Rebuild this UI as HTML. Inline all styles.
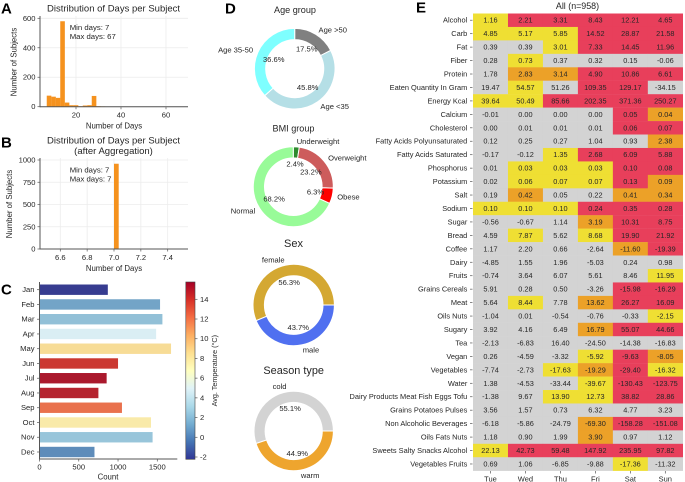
<!DOCTYPE html>
<html lang="en">
<head>
<meta charset="utf-8">
<title>Dietary intake overview</title>
<style>
html,body{margin:0;padding:0;background:#fff;width:685px;height:482px;overflow:hidden}
svg{display:block;filter:blur(0.35px)}
text{font-family:"Liberation Sans",Arial,sans-serif;fill:#262626}
</style>
</head>
<body>
<svg id="fig" xmlns="http://www.w3.org/2000/svg" width="685" height="482" viewBox="0 0 685 482"></svg>
<script>
// Panel A
const histBinStart = 7;
const histBinWidth = 2;
const histCounts = [75,68,60,580,28,10,10,3,8,10,73,3,2,1,1,0,0,0,0,0,0,0,0,0,0,0,0,0,0,1];
const histXTicks = [20,40,60];
const histYTicks = [0,200,400,600];
const histNotes = ['Min days: 7','Max days: 67'];
// Panel B
const aggDays = [7];
const aggCounts = [958];
const aggBarWidth = 0.035;
const aggXTicks = [6.6,6.8,7.0,7.2,7.4];
const aggYTicks = [0,250,500,750,1000];
const aggNotes = ['Min days: 7','Max days: 7'];
// Panel C
const months = ['Jan','Feb','Mar','Apr','May','Jun','Jul','Aug','Sep','Oct','Nov','Dec'];
const monthCounts = [870,1535,1565,1485,1675,1000,855,750,1050,1420,1440,700];
const monthTemps = [-2.2,1.1,2.2,4.7,8.6,14,15.2,14.8,12.2,7.8,2.4,0.3];
const countTicks = [0,500,1000,1500];
const tempTicks = [-2,0,2,4,6,8,10,12,14];
const cmapStops = ['#313695','#4575b4','#74add1','#abd9e9','#e0f3f8','#ffffbf','#fee090','#fdae61','#f46d43','#d73027','#a50026'];
// Panel D
const ageLabels = ['Age >50','Age <35','Age 35-50'];
const ageShares = [17.5,45.8,36.6];
const bmiLabels = ['Underweight','Overweight','Obese','Normal'];
const bmiShares = [2.4,23.2,6.3,68.2];
const sexLabels = ['female','male'];
const sexShares = [56.3,43.7];
const seasonLabels = ['cold','warm'];
const seasonShares = [55.1,44.9];
// Panel E
const days = ['Tue','Wed','Thu','Fri','Sat','Sun'];
const foods = ['Alcohol','Carb','Fat','Fiber','Protein','Eaten Quantity In Gram','Energy Kcal','Calcium','Cholesterol','Fatty Acids Polyunsaturated','Fatty Acids Saturated','Phosphorus','Potassium','Salt','Sodium','Sugar','Bread','Coffee','Dairy','Fruits','Grains Cereals','Meat','Oils Nuts','Sugary','Tea','Vegan','Vegetables','Water','Dairy Products Meat Fish Eggs Tofu','Grains Potatoes Pulses','Non Alcoholic Beverages','Oils Fats Nuts','Sweets Salty Snacks Alcohol','Vegetables Fruits'];
const foodValues = [
['1.16','2.21','3.31','8.43','12.21','4.65'],
['4.85','5.17','5.85','14.52','28.87','21.58'],
['0.39','0.39','3.01','7.33','14.45','11.96'],
['0.28','0.73','0.37','0.32','0.15','-0.06'],
['1.78','2.83','3.14','4.90','10.86','6.61'],
['19.47','54.57','51.26','109.35','129.17','-34.15'],
['39.64','50.49','85.66','202.35','371.36','250.27'],
['-0.01','0.00','0.00','0.00','0.05','0.04'],
['0.00','0.01','0.01','0.01','0.06','0.07'],
['0.12','0.25','0.27','1.04','0.93','2.38'],
['-0.17','-0.12','1.35','2.68','6.09','5.88'],
['0.01','0.03','0.03','0.03','0.10','0.08'],
['0.02','0.06','0.07','0.07','0.13','0.09'],
['0.19','0.42','0.05','0.22','0.41','0.34'],
['0.10','0.10','0.10','0.24','0.35','0.28'],
['-0.56','-0.67','1.14','3.19','10.31','8.75'],
['4.59','7.87','5.62','8.68','19.90','21.92'],
['1.17','2.20','0.66','-2.64','-11.60','-19.39'],
['-4.85','1.55','1.96','-5.03','0.24','0.98'],
['-0.74','3.64','6.07','5.61','8.46','11.95'],
['5.91','0.28','0.50','-3.26','-15.98','-16.29'],
['5.64','8.44','7.78','13.62','26.27','16.09'],
['-1.04','0.01','-0.54','-0.76','-0.33','-2.15'],
['3.92','4.16','6.49','16.79','55.07','44.66'],
['-2.13','-6.83','16.40','-24.50','-14.38','-16.83'],
['0.26','-4.59','-3.32','-5.92','-9.63','-8.05'],
['-7.74','-2.73','-17.63','-19.29','-29.40','-16.32'],
['1.38','-4.53','-33.44','-39.67','-130.43','-123.75'],
['-1.38','9.67','13.90','12.73','38.82','28.86'],
['3.56','1.57','0.73','6.32','4.77','3.23'],
['-6.18','-5.86','-24.79','-69.30','-158.28','-151.08'],
['1.18','0.90','1.99','3.90','0.97','1.12'],
['22.13','42.73','59.48','147.92','235.95','97.82'],
['0.69','1.06','-6.85','-9.88','-17.36','-11.32']
];
// significance level per cell: 0 none, 1 yellow, 2 orange, 3 red
const foodLevels = [
[1,3,3,3,3,3],[1,1,1,3,3,3],[0,0,1,3,3,3],[0,1,0,0,0,0],[0,2,2,3,3,3],[0,1,0,3,3,0],[1,1,3,3,3,3],
[0,0,0,0,3,2],[0,0,0,0,3,3],[0,0,0,0,0,2],[0,0,1,3,3,3],[0,1,1,1,3,3],[0,1,1,1,3,2],[0,2,0,0,2,2],
[1,1,1,3,3,3],[0,0,0,2,3,3],[0,1,0,1,3,3],[0,0,0,0,2,3],[0,0,0,0,0,0],[0,0,0,0,0,1],[0,0,0,0,3,3],
[0,1,0,2,3,3],[0,0,0,0,0,1],[0,0,0,2,3,3],[0,0,0,0,0,0],[0,0,0,1,3,2],[0,0,1,2,3,1],[0,0,0,1,3,3],
[0,0,1,1,3,3],[0,0,0,0,0,0],[0,0,0,2,3,3],[0,0,0,2,0,0],[1,3,3,3,3,3],[0,0,0,0,1,0]
];
const levelColors = ['#d3d3d3','#efdf33','#eca128','#e83f5b'];

const svg = document.getElementById('fig');
const NS = 'http://www.w3.org/2000/svg';
function mk(tag, attrs, parent){
  const e = document.createElementNS(NS, tag);
  for (const k in attrs) e.setAttribute(k, attrs[k]);
  (parent || svg).appendChild(e);
  return e;
}
function txt(x, y, s, size, anchor, parent, extra){
  const e = mk('text', Object.assign({x:x, y:y, 'font-size':size, 'text-anchor':anchor || 'start', 'dominant-baseline':'central'}, extra || {}), parent);
  e.textContent = s;
  return e;
}
function linear(d0, d1, r0, r1){ return v => r0 + (v - d0) * (r1 - r0) / (d1 - d0); }
function mixRgb(a, b, t){
  const p = h => [1,3,5].map(i => parseInt(h.substr(i,2),16));
  const A = p(a), B = p(b);
  return A.map((c,i) => c + (B[i]-c)*t);
}
const SPINE = '#555555', GRID = '#ececec', BAR = '#f5921e';

let el;
function panelLetter(ch, x, y){
  const e = txt(x, y, ch, 15, 'start', svg, {'font-weight':'bold'});
  e.style.fill = '#000';
  
  
}
panelLetter('A', 1, 9);
panelLetter('B', 1, 143);
panelLetter('C', 1, 290);
panelLetter('D', 225, 9);
panelLetter('E', 416, 8);

function histPanel(id, cfg){
  const g = mk('g', {});
  
  
  const sx = cfg.sx, sy = cfg.sy;
  cfg.xTicks.forEach(t => {
    const X = sx(t);
    const gl = mk('line', {x1:X, x2:X, y1:cfg.top, y2:cfg.bottom, stroke:GRID, 'stroke-width':0.8}, g);
    
    
    const tk = mk('line', {x1:X, x2:X, y1:cfg.bottom, y2:cfg.bottom+2.5, stroke:SPINE, 'stroke-width':0.7}, g);
    
    
    const lb = txt(X, cfg.bottom+8.5, cfg.fmtX(t), 7.6, 'middle', g);
    
    
  });
  cfg.yTicks.forEach(t => {
    const Y = sy(t);
    const gl = mk('line', {x1:cfg.left, x2:cfg.right, y1:Y, y2:Y, stroke:GRID, 'stroke-width':0.8}, g);
    
    
    const tk = mk('line', {x1:cfg.left-2.5, x2:cfg.left, y1:Y, y2:Y, stroke:SPINE, 'stroke-width':0.7}, g);
    
    
    const lb = txt(cfg.left-4.5, Y, String(t), 7.6, 'end', g);
    
    
  });
  cfg.drawBars(g);
  const sl = mk('line', {x1:cfg.left, x2:cfg.left, y1:cfg.top, y2:cfg.bottom+0.5, stroke:SPINE, 'stroke-width':1}, g);
  
  
  const sb = mk('line', {x1:cfg.left, x2:cfg.right, y1:cfg.bottom, y2:cfg.bottom, stroke:SPINE, 'stroke-width':1}, g);
  
  
  cfg.title.forEach((s,i) => {
    const t = txt(113.5, cfg.titleY + i*10.7, s, 9.5, 'middle', g);
    
    
  });
  const xl = txt(114, cfg.bottom+19.3, 'Number of Days', 7.8, 'middle', g);
  
  
  const yl = txt(0, 0, 'Number of Subjects', 7.8, 'middle', g, {transform:'translate(' + cfg.ylabelX + ',' + cfg.ylabelY + ') rotate(-90)'});
  
  
  cfg.notes.forEach((s,i) => {
    const n = txt(69.7, cfg.noteY + i*9, s, 7.75, 'start', g);
    
    
  });
}

const ax = linear(20, 60, 76, 166), ay = linear(0, 600, 106.7, 18.3);
histPanel('days', {
  left:40, right:188, top:16, bottom:106.7, sx:ax, sy:ay,
  xTicks:histXTicks, yTicks:histYTicks, fmtX:String,
  title:['Distribution of Days per Subject'], titleY:9,
  ylabelX:14, ylabelY:62, notes:histNotes, noteY:27.7,
  drawBars(g){
    histCounts.forEach((c,i) => {
      const x0 = histBinStart + i*histBinWidth;
      const b = mk('rect', {x:ax(x0), y:ay(c), width:ax(x0+histBinWidth)-ax(x0)+0.1, height:ay(0)-ay(c), fill:BAR}, g);
      
      
    });
  }
});

const bx = linear(6.6, 7.4, 60.3, 167.7), by = linear(0, 1000, 249, 160);
histPanel('aggregated-days', {
  left:40, right:188, top:158, bottom:249, sx:bx, sy:by,
  xTicks:aggXTicks, yTicks:aggYTicks, fmtX:v => v.toFixed(1),
  title:['Distribution of Days per Subject','(after Aggregation)'], titleY:141,
  ylabelX:9.7, ylabelY:204, notes:aggNotes, noteY:170,
  drawBars(g){
    aggDays.forEach((d,i) => {
      const b = mk('rect', {x:bx(d), y:by(aggCounts[i]), width:bx(d+aggBarWidth)-bx(d), height:by(0)-by(aggCounts[i]), fill:BAR}, g);
      
      
    });
  }
});

// Panel C
const TMIN = -2.23, TMAX = 15.75;
function tempColor(t){
  const u = Math.max(0, Math.min(1, (t - TMIN) / (TMAX - TMIN))) * (cmapStops.length - 1);
  const i = Math.min(cmapStops.length - 2, Math.floor(u));
  const c = mixRgb(cmapStops[i], cmapStops[i+1], u - i);
  const l = (Math.max(...c) + Math.min(...c)) / 2;
  return 'rgb(' + c.map(v => Math.round(l + (v - l) * 0.88)).join(',') + ')';
}
const gC = mk('g', {});


const cx = linear(0, 1500, 39.5, 157.3);
const cyBand = i => linear(0, 11, 289.7, 452)(i);
months.forEach((m,i) => {
  const Y = cyBand(i);
  const b = mk('rect', {x:cx(0), y:Y-5.2, width:cx(monthCounts[i])-cx(0), height:10.4, fill:tempColor(monthTemps[i])}, gC);
  
  
  const tk = mk('line', {x1:37, x2:39.5, y1:Y, y2:Y, stroke:SPINE, 'stroke-width':0.7}, gC);
  
  
  const lb = txt(34.5, Y, m, 7.6, 'end', gC);
  
  
});
countTicks.forEach(t => {
  const X = cx(t);
  const tk = mk('line', {x1:X, x2:X, y1:459, y2:461.5, stroke:SPINE, 'stroke-width':0.7}, gC);
  
  
  const lb = txt(X, 467, String(t), 7.6, 'middle', gC);
  
  
});
el = mk('line', {x1:39.5, x2:39.5, y1:282, y2:459.5, stroke:SPINE, 'stroke-width':1}, gC);


el = mk('line', {x1:39.5, x2:177.3, y1:459, y2:459, stroke:SPINE, 'stroke-width':1}, gC);


el = txt(108, 477, 'Count', 7.8, 'middle', gC);



// colorbar
const defs = mk('defs', {});
const grad = mk('linearGradient', {id:'cbar', x1:0, x2:0, y1:1, y2:0}, defs);
cmapStops.forEach((c,i) => mk('stop', {offset:(i/(cmapStops.length-1)), 'stop-color':c}, grad));
const gB = mk('g', {});


el = mk('rect', {x:185.8, y:282, width:9.2, height:177.3, fill:'url(#cbar)', stroke:'#444', 'stroke-width':0.6}, gB);


const ty = linear(-2, 14, 457, 299.3);
tempTicks.forEach(t => {
  const Y = ty(t);
  const tk = mk('line', {x1:195, x2:197.5, y1:Y, y2:Y, stroke:SPINE, 'stroke-width':0.7}, gB);
  
  
  const lb = txt(200, Y, String(t), 7.6, 'start', gB);
  
  
});
el = txt(0, 0, 'Avg. Temperature (\u00b0C)', 7.2, 'middle', gB, {transform:'translate(214.7,370.7) rotate(-90)'});



// Panel D
function donut(name, cfg){
  const g = mk('g', {});
  
  
  const tt = txt(cfg.titleX, cfg.titleY, cfg.title, cfg.titleSize, 'middle', g);
  
  
  const R = cfg.r, r = R * 0.72, total = cfg.shares.reduce((a,b)=>a+b,0);
  let ang = cfg.start;
  cfg.shares.forEach((s,i) => {
    const sweep = s / total * 360 * cfg.dir, a0 = ang, a1 = ang + sweep;
    ang = a1;
    const pt = (rad, a) => [cfg.cx + rad*Math.cos(a*Math.PI/180), cfg.cy - rad*Math.sin(a*Math.PI/180)];
    const large = Math.abs(sweep) > 180 ? 1 : 0;
    const cw = cfg.dir < 0 ? 1 : 0, ccw = 1 - cw;
    const A = pt(R,a0), B = pt(R,a1), C = pt(r,a1), D = pt(r,a0);
    const d = 'M'+A+' A'+R+','+R+' 0 '+large+' '+cw+' '+B+' L'+C+' A'+r+','+r+' 0 '+large+' '+ccw+' '+D+' Z';
    const w = mk('path', {d:d, fill:cfg.colors[i], stroke:'#fff', 'stroke-width':1}, g);
    
    
  });
  ang = cfg.start;
  cfg.shares.forEach((s,i) => {
    const sweep = s / total * 360 * cfg.dir, mid = ang + sweep/2;
    ang += sweep;
    const c = Math.cos(mid*Math.PI/180), n = Math.sin(mid*Math.PI/180);
    const lb = txt(cfg.cx + R*1.13*c, cfg.cy - R*1.13*n, cfg.labels[i], 7.6, c >= 0 ? 'start' : 'end', g);
    
    
    const pc = txt(cfg.cx + R*0.57*c, cfg.cy - R*0.57*n, s.toFixed(1) + '%', 7.6, 'middle', g);
    
    
  });
}
donut('age-group', {title:'Age group', titleX:295, titleY:10, titleSize:9.1, cx:294.7, cy:68.7, r:40.3, start:90, dir:-1, shares:ageShares, labels:ageLabels, colors:['#808080','#b5dfe6','#7effff']});
donut('bmi-group', {title:'BMI group', titleX:293.5, titleY:128.5, titleSize:9.1, cx:293.3, cy:186.7, r:40, start:90, dir:-1, shares:bmiShares, labels:bmiLabels, colors:['#2e8b2e','#cd5c5c','#ff0000','#98fb98']});
donut('sex', {title:'Sex', titleX:293.5, titleY:244, titleSize:11, cx:293.7, cy:305, r:40.7, start:0, dir:1, shares:sexShares, labels:sexLabels, colors:['#d4a832','#5070f0']});
donut('season-type', {title:'Season type', titleX:293.7, titleY:371, titleSize:10.9, cx:293.7, cy:431, r:39.7, start:0, dir:1, shares:seasonShares, labels:seasonLabels, colors:['#d3d3d3','#eea52e']});

// Panel E
const gH = mk('g', {});


const hx = linear(0, days.length, 473, 682.8);
const hy = linear(0, foods.length, 13.5, 470.7);
foods.forEach((f,r) => {
  const Yc = (hy(r) + hy(r+1)) / 2;
  days.forEach((d,c) => {
    const cell = mk('rect', {x:hx(c), y:hy(r), width:hx(c+1)-hx(c)+0.2, height:hy(r+1)-hy(r)+0.2, fill:levelColors[foodLevels[r][c]]}, gH);
    
    
    const v = txt((hx(c)+hx(c+1))/2, Yc, foodValues[r][c], 7.35, 'middle', gH);
    
    
  });
  const tk = mk('line', {x1:470, x2:472.5, y1:Yc, y2:Yc, stroke:SPINE, 'stroke-width':0.7}, gH);
  
  
  const lb = txt(467.3, Yc, f, 7.4, 'end', gH);
  
  
});
days.forEach((d,c) => {
  const X = (hx(c)+hx(c+1))/2;
  const tk = mk('line', {x1:X, x2:X, y1:471, y2:473.5, stroke:SPINE, 'stroke-width':0.7}, gH);
  
  
  const lb = txt(X, 479, d, 7.5, 'middle', gH);
  
  
});
el = txt(577.5, 6, 'All (n=958)', 8.9, 'middle', gH);


</script>
</body>
</html>
